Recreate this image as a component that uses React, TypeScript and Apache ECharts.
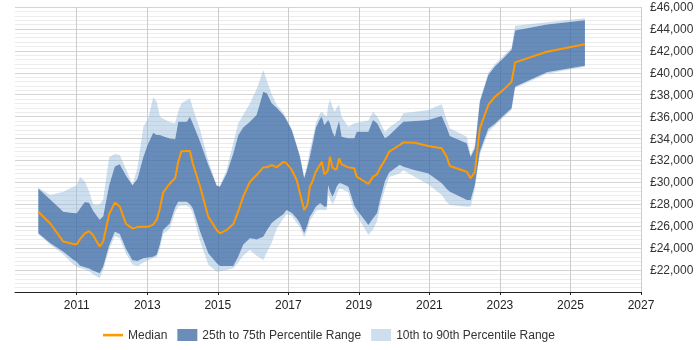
import React, { useEffect, useRef } from "react";
import * as echarts from "echarts";

const dates = [
  2009.91, 2010.25, 2010.62, 2010.9, 2011.0, 2011.09, 2011.23, 2011.35, 2011.47, 2011.65,
  2011.75, 2011.92, 2012.08, 2012.22, 2012.4, 2012.58, 2012.72, 2012.89, 2013.03, 2013.17,
  2013.27, 2013.36, 2013.45, 2013.64, 2013.79, 2013.88, 2013.97, 2014.12, 2014.21, 2014.29,
  2014.5, 2014.73, 2014.97, 2015.06, 2015.25, 2015.44, 2015.58, 2015.72, 2015.91, 2016.1,
  2016.29, 2016.39, 2016.53, 2016.67, 2016.86, 2016.95, 2017.1, 2017.24, 2017.33, 2017.45,
  2017.54, 2017.61, 2017.68, 2017.78, 2017.9, 2017.95, 2018.02, 2018.09, 2018.13, 2018.18,
  2018.25, 2018.32, 2018.37, 2018.44, 2018.51, 2018.7, 2018.87, 2018.94, 2019.27, 2019.4,
  2019.52, 2019.6, 2019.74, 2019.86, 2020.16, 2020.26, 2020.59, 2020.97, 2021.35, 2021.49,
  2021.58, 2022.06, 2022.17, 2022.29, 2022.43, 2022.67, 2022.86, 2023.09, 2023.33, 2023.43,
  2024.33, 2025.41,
];

const p10 = [
  25300, 24300, 23450, 22500, 22300, 22200, 22050, 21900, 21600, 21250,
  22000, 23900, 25100, 24900, 23500, 22500, 22350, 22700, 22900, 23100,
  23200, 24000, 25300, 25800, 27300, 27800, 27900, 27900, 27700, 27200,
  24600, 22500, 21850, 21900, 22000, 22160, 22700, 23300, 23830, 23300,
  22920, 23600, 24500, 25780, 26700, 27100, 26950, 26300, 25900, 25000,
  25700, 26500, 26850, 27400, 27500, 27500, 27450, 27500, 28900, 28500,
  28000, 28400, 28900, 29400, 29400, 29100, 27300, 27000, 25200, 25700,
  26500, 27800, 29400, 30500, 30800, 31100, 30500, 29800, 28850, 28200,
  27930, 27780, 27800, 29450, 32500, 34600, 35200, 35900, 36600, 38600,
  39900, 40550,
];

const p25 = [
  25350, 24450, 23680, 22950, 22770, 22400, 22250, 22150, 21950, 21700,
  22300, 24250, 25500, 25300, 23900, 22900, 22820, 23070, 23150, 23220,
  23400, 24350, 25650, 26260, 27700, 28240, 28240, 28240, 28000, 27650,
  25500, 23530, 22620, 22370, 22370, 22370, 23220, 24300, 24900, 24800,
  25040, 25600, 26300, 26650, 27100, 27480, 27200, 26700, 26260, 25350,
  26100, 26870, 27200, 27780, 28090, 28000, 27780, 27800, 29750, 29200,
  28700, 29150, 29600, 29910, 29900, 29600, 27900, 27500, 26110, 26700,
  27200, 28400, 30100, 30900, 31600, 31430, 31100, 30800, 29910, 29400,
  29150, 28400, 28390, 29760, 32800, 34900, 35350, 36050, 36760, 38730,
  40050, 40650,
];

const median = [
  27320, 26250, 24600, 24380, 24350, 24800, 25350, 25550, 25150, 24150,
  24600, 27100, 28150, 27800, 26200, 25800, 25920, 25950, 25960, 26150,
  26600, 27650, 29060, 29900, 30370, 31900, 32850, 32860, 32860, 31740,
  29600, 26870, 25650, 25350, 25650, 26200, 27350, 28700, 30050, 30670,
  31370, 31380, 31580, 31370, 31890, 31740, 31130, 30200, 29000, 27480,
  27930, 29600, 30060, 30970, 31600, 31890, 30760, 30900, 31200, 32340,
  31370, 31200, 31190, 32190, 31650, 31370, 31280, 30520, 29850, 30500,
  30760, 31300, 32040, 32800, 33410, 33650, 33620, 33320, 33110, 32340,
  31490, 30970, 30370, 30970, 34930, 37060, 37820, 38420, 39180, 40950,
  41920, 42600,
];

const p75 = [
  29450, 28430, 27320, 27200, 27180, 27600, 28200, 28150, 27400, 26600,
  26900, 29750, 31450, 31650, 30600, 29750, 30300, 32340, 33560, 34530,
  34320, 34320, 34200, 34000, 33930, 35530, 35530, 35530, 35990, 35400,
  33700, 31600, 29700, 29600, 30800, 32650, 34300, 35000, 35530, 36150,
  38270, 38130, 37210, 36800, 36150, 35700, 34750, 33300, 32340, 30370,
  31400, 32340, 33400, 35000, 35800, 35990, 35230, 35500, 35700, 35400,
  34620, 34170, 34900, 35600, 34170, 34020, 34020, 34620, 34620, 35690,
  35390, 34900, 34020, 34300, 35230, 35530, 35600, 35690, 36050, 35000,
  34230, 33560, 32340, 33110, 37360, 39800, 40600, 41300, 42100, 43850,
  44400, 44800,
];

const p90 = [
  29500, 28850, 29150, 29600, 29700, 30500, 30100, 29200, 27950, 27950,
  28450, 32300, 32600, 32500, 31200, 29800, 31300, 35080, 35840, 37760,
  37360, 35990, 35800, 35500, 35390, 36500, 37210, 37500, 37670, 36800,
  34800, 32000, 29750, 29700, 31130, 33600, 35400, 36150, 37200, 38500,
  40250, 39300, 38050, 37060, 36350, 35800, 34850, 33400, 32450, 30520,
  31700, 32950, 33900, 35400, 36300, 36450, 36200, 35990, 37000, 37580,
  36900, 36450, 36800, 37100, 35990, 35080, 35390, 35450, 35650, 36450,
  36000, 35530, 34600, 35000, 35690, 36300, 36450, 36600, 37120, 35700,
  34930, 34170, 32490, 33410, 37500, 40000, 40800, 41500, 42300, 44300,
  44600, 44970,
];

const gridYears = [2011, 2013, 2015, 2017, 2019, 2021, 2023, 2025, 2027];

const FONT = "'Liberation Sans', Arial, sans-serif";
const DARK = "rgba(62,108,166,0.78)";
const LIGHT = "rgba(150,185,220,0.48)";
const ORANGE = "#ff9900";
const LINE_ICON = "path://M0,0 L0,0 M0,4.8 L20,4.8 L20,7.4 L0,7.4 Z M20,12 L20,12";

function bandPoints(api: any, lo: number[], hi: number[]) {
  const pts: number[][] = [];
  for (let i = 0; i < dates.length; i++) pts.push(api.coord([dates[i], hi[i]]));
  for (let i = dates.length - 1; i >= 0; i--) pts.push(api.coord([dates[i], lo[i]]));
  return pts;
}

export default function App() {
  const ref = useRef<HTMLDivElement>(null);
  useEffect(() => {
    if (!ref.current) return;
    const chart = echarts.init(ref.current, undefined, { renderer: "svg" });
    const fmtMoney = (v: number) =>
      v === 20000 ? "" : "£" + String(v).replace(/\B(?=(\d{3})+(?!\d))/g, ",");
    chart.setOption({
      animation: false,
      textStyle: { fontFamily: FONT },
      grid: { left: 15, right: 59, top: 7, bottom: 58, containLabel: false },
      xAxis: {
        type: "value",
        min: 2009.25,
        max: 2027,
        interval: 0.25,
        axisLine: { show: true, lineStyle: { color: "#222", width: 1 } },
        axisTick: {
          show: true,
          length: 3,
          customValues: gridYears,
          lineStyle: { color: "#222", width: 1 },
        },
        splitLine: { show: false },
        axisLabel: {
          margin: 7,
          color: "#222",
          fontSize: 12,
          fontFamily: FONT,
          formatter: (v: number) => {
            const r = Math.round(v);
            return Math.abs(v - r) < 1e-6 && r % 2 === 1 ? String(r) : "";
          },
        },
      },
      yAxis: {
        type: "value",
        position: "right",
        min: 20000,
        max: 46000,
        interval: 2000,
        axisLine: { show: false },
        axisTick: { show: false },
        axisLabel: {
          margin: 9,
          color: "#333",
          fontSize: 12,
          fontFamily: FONT,
          formatter: fmtMoney,
        },
        splitLine: { show: true, lineStyle: { color: "#d4d4d4", width: 1 } },
        minorTick: { show: false, splitNumber: 5 },
        minorSplitLine: { show: true, lineStyle: { color: "#ececec", width: 1 } },
      },
      legend: {
        left: 98,
        top: 324,
        itemWidth: 20,
        itemHeight: 12,
        itemGap: 10,
        textStyle: { fontSize: 12, color: "#333", fontFamily: FONT },
        data: [
          { name: "Median", icon: LINE_ICON, itemStyle: { color: ORANGE } },
          { name: "25th to 75th Percentile Range", icon: "rect", itemStyle: { color: "#6a8db9" } },
          { name: "10th to 90th Percentile Range", icon: "rect", itemStyle: { color: "#cfdeee" } },
        ],
      },
      series: [
        {
          name: "10th to 90th Percentile Range",
          type: "custom",
          z: 2,
          silent: true,
          itemStyle: { color: "#cfdeee" },
          data: [[dates[0], p10[0]]],
          renderItem: (params: any, api: any) => {
            if (params.dataIndex !== 0) return null;
            return {
              type: "group",
              children: [
                { type: "polygon", shape: { points: bandPoints(api, p10, p25) }, style: { fill: LIGHT } },
                { type: "polygon", shape: { points: bandPoints(api, p75, p90) }, style: { fill: LIGHT } },
              ],
            };
          },
        },
        {
          name: "25th to 75th Percentile Range",
          type: "custom",
          z: 3,
          silent: true,
          itemStyle: { color: "#6a8db9" },
          data: [[dates[0], p25[0]]],
          renderItem: (params: any, api: any) => {
            if (params.dataIndex !== 0) return null;
            return {
              type: "polygon",
              shape: { points: bandPoints(api, p25, p75) },
              style: { fill: DARK },
            };
          },
        },
        {
          name: "Median",
          type: "line",
          z: 4,
          symbol: "none",
          showSymbol: false,
          color: ORANGE,
          lineStyle: { color: ORANGE, width: 2 },
          data: dates.map((d, i) => [d, median[i]]),
          markLine: {
            z: 1,
            silent: true,
            symbol: ["none", "none"],
            label: { show: false },
            lineStyle: { color: "#cccccc", width: 1, type: "solid" },
            data: gridYears.map((y) => ({ xAxis: y })),
          },
        },
      ],
    });
    return () => chart.dispose();
  }, []);
  return (
    <div
      ref={ref}
      style={{ position: "fixed", left: 0, top: 0, width: 700, height: 350 }}
    />
  );
}
